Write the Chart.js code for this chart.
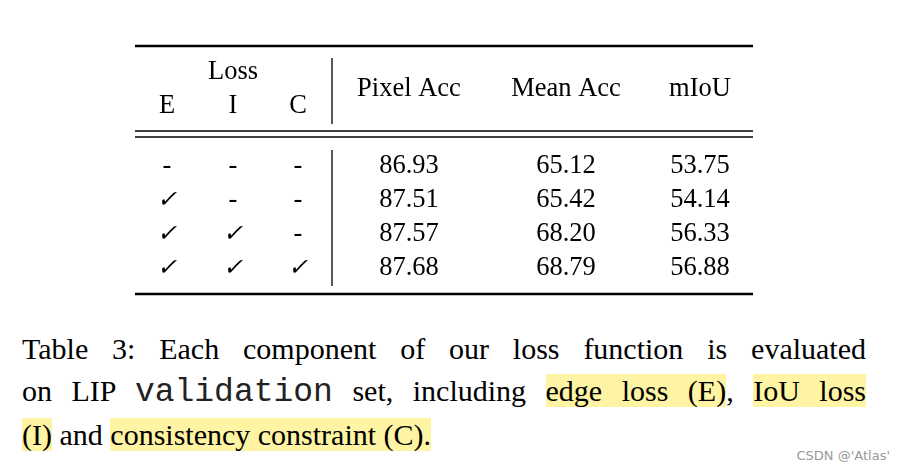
<!DOCTYPE html>
<html>
<head>
<meta charset="utf-8">
<script src="https://cdn.jsdelivr.net/npm/chart.js@4.4.0/dist/chart.umd.min.js"></script>
<style>
  body { margin: 0; background: #fff; width: 902px; height: 474px; overflow: hidden; position: relative; }
  #wrap { position: absolute; left: 0; top: 0; width: 902px; height: 310px; }
  #caption { position: absolute; left: 22px; top: 328px; width: 844px; font-family: "Liberation Serif", serif; font-size: 30px; line-height: 42px; color: #000; }
  #caption .j { text-align: justify; text-align-last: justify; white-space: nowrap; }
  #caption .mono { font-family: "Liberation Mono", monospace; font-size: 33px; font-weight: 300; color: #222; }
  #caption .hl { background: #fff4a3; }
  #mark { position: absolute; right: 12px; top: 448px; font-family: "DejaVu Sans", sans-serif; font-size: 13px; color: #999; }
</style>
</head>
<body>
<div id="wrap"><canvas id="tableChart"></canvas></div>
<div id="caption">
  <div class="j">Table 3: Each component of our loss function is evaluated</div>
  <div class="j">on LIP <span class="mono">validation</span> set, including <span class="hl">edge loss (E)</span>, <span class="hl">IoU loss</span></div>
  <div><span class="hl">(I)</span> and <span class="hl">consistency constraint (C).</span></div>
</div>
<div id="mark">CSDN @'Atlas'</div>
<script>
'use strict'

// Table data.
const lossLabels = ["E", "I", "C"];
const metricLabels = ["Pixel Acc", "Mean Acc", "mIoU"];
const useEdge = [false, true, true, true];
const useIoU = [false, false, true, true];
const useConsistency = [false, false, false, true];
const pixelAcc = [86.93, 87.51, 87.57, 87.68];
const meanAcc = [65.12, 65.42, 68.20, 68.79];
const mIoU = [53.75, 54.14, 56.33, 56.88];

// Layout in page pixels, converted through the chart scales.
const colX = [167, 233, 298, 409, 566, 700];
const rowY = [166, 200, 234, 268];

/**
 * Draws the table text and rules using the chart's x/y scales.
 */
const tablePlugin = {
    id: 'tablePlugin',
    afterDraw(chart) {
        const ctx = chart.ctx;
        const x = chart.scales.x;
        const y = chart.scales.y;
        const px = (v) => x.getPixelForValue(v);
        const py = (v) => y.getPixelForValue(v);

        ctx.save();
        ctx.strokeStyle = '#000';

        // Horizontal rules.
        const hline = (yy, w) => {
            ctx.lineWidth = w;
            ctx.beginPath();
            ctx.moveTo(px(135), py(yy));
            ctx.lineTo(px(753), py(yy));
            ctx.stroke();
        };
        hline(46, 2.5);
        hline(131, 1.3);
        hline(137, 1.3);
        hline(294, 2.5);

        // Vertical separators.
        ctx.lineWidth = 1.3;
        ctx.beginPath();
        ctx.moveTo(px(332), py(58));
        ctx.lineTo(px(332), py(124));
        ctx.moveTo(px(332), py(150));
        ctx.lineTo(px(332), py(286));
        ctx.stroke();

        ctx.fillStyle = '#000';
        ctx.textAlign = 'center';
        ctx.textBaseline = 'middle';
        const serif = '26.5px "Liberation Serif", serif';
        ctx.font = serif;

        // Header.
        ctx.fillText('Loss', px(233), py(72));
        lossLabels.forEach((l, i) => ctx.fillText(l, px(colX[i]), py(106)));
        metricLabels.forEach((l, i) => ctx.fillText(l, px(colX[i + 3]), py(89)));

        // Body rows.
        const flags = [useEdge, useIoU, useConsistency];
        const values = [pixelAcc, meanAcc, mIoU];
        rowY.forEach((ry, r) => {
            flags.forEach((f, i) => {
                if (f[r]) {
                    ctx.font = 'italic 24px "DejaVu Serif", serif';
                    ctx.fillText('\u2713', px(colX[i]), py(ry + 1));
                } else {
                    ctx.font = serif;
                    ctx.fillText('-', px(colX[i]), py(ry));
                }
            });
            ctx.font = serif;
            values.forEach((v, i) => ctx.fillText(v[r].toFixed(2), px(colX[i + 3]), py(ry)));
        });
        ctx.restore();
    }
};

new Chart(document.getElementById('tableChart').getContext('2d'), {
    type: 'scatter',
    data: { datasets: [{ data: [] }] },
    options: {
        responsive: true,
        maintainAspectRatio: false,
        animation: false,
        layout: { padding: 0 },
        plugins: { legend: { display: false }, tooltip: { enabled: false } },
        scales: {
            x: { type: 'linear', min: 0, max: 902, display: false },
            y: { type: 'linear', min: 0, max: 310, reverse: true, display: false }
        }
    },
    plugins: [tablePlugin]
});
</script>
</body>
</html>
